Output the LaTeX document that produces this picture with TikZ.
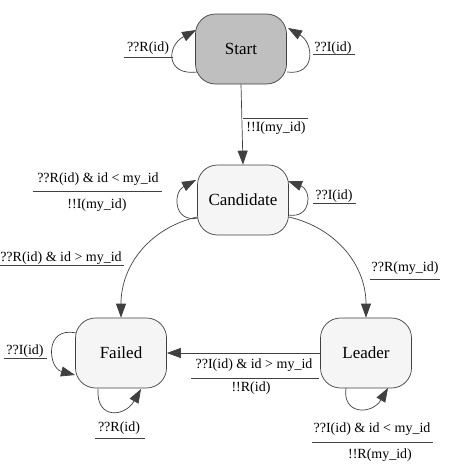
\documentclass[tikz,border=0pt]{standalone}
\usepackage{fontspec}
\setmainfont{Liberation Serif}
\usetikzlibrary{arrows.meta,calc}
\begin{document}
\begin{tikzpicture}[x=1pt,y=-1pt,
  state/.style={draw=black!75, line width=0.7pt, rounded corners=20pt, minimum width=91pt, minimum height=70pt, inner sep=0pt, fill=black!4, font=\fontsize{17}{20}\selectfont},
  lbl/.style={inner sep=0pt, font=\fontsize{14}{16}\selectfont},
  edge/.style={draw=black!75, line width=0.7pt, -{Triangle[length=14pt,width=10pt]}},
  rul/.style={draw=black!75, line width=0.8pt}]
\useasboundingbox (0,0) rectangle (474,474);
% states
\node[state, fill=black!25] (start) at (241,49) {Start};
\node[state] (cand) at (243,200) {Candidate};
\node[state] (failed) at (121,353) {Failed};
\node[state] (leader) at (366,353) {Leader};
% Start loops
\draw[edge] ($(start)+(-44,23)$) .. controls (166,76) and (166,46) .. ($(start)+(-45,-19)$);
\draw[edge] ($(start)+(46,23)$) .. controls (316,76) and (314,43) .. ($(start)+(47,-21)$);
\node[lbl] (l1) at (148,48) {??R(id)};
\draw[rul] (124,57) -- (173,57);
\node[lbl] (l2) at (333,48) {??I(id)};
\draw[rul] (313,54) -- (355,54);
% Start -> Candidate
\draw[edge] (start.south) -- (cand.north);
\draw[rul] (243,118) -- (308,118);
\node[lbl] (l3) at (276,128) {!!I(my\_id)};
% Candidate loops
\draw[edge] ($(cand)+(-45,18)$) .. controls (173,223) and (173,192) .. ($(cand)+(-47,-20)$);
\draw[edge] ($(cand)+(45,15)$) .. controls (312,219) and (312,190) .. ($(cand)+(45,-19)$);
\node[lbl] (l4) at (98,179) {??R(id) \& id < my\_id};
\draw[rul] (33,191) -- (162,191);
\node[lbl] (l5) at (97,205) {!!I(my\_id)};
\node[lbl] (l6) at (334,196) {??I(id)};
\draw[rul] (313,203) -- (356,203);
% Candidate -> Failed / Leader
\draw[edge] ($(cand)+(-46,17)$) .. controls (150,228) and (121,265) .. (failed.north);
\draw[edge] ($(cand)+(46,17)$) .. controls (336,228) and (366,265) .. (leader.north);
\node[lbl] (l7) at (61,258) {??R(id) \& id > my\_id};
\draw[rul] (0,265) -- (124,265);
\node[lbl] (l8) at (405,268) {??R(my\_id)};
\draw[rul] (370,279) -- (440,279);
% Failed loops
\draw[edge] ($(failed)+(-45,-20)$) .. controls (44,326) and (48,368) .. ($(failed)+(-46,22)$);
\draw[edge] ($(failed)+(-23,36)$) .. controls (96,420) and (125,417) .. ($(failed)+(20,36)$);
\node[lbl] (l9) at (25,351) {??I(id)};
\draw[rul] (4,358) -- (47,358);
\node[lbl] (l10) at (119,428) {??R(id)};
\draw[rul] (95,438) -- (145,438);
% Leader -> Failed
\draw[edge] (leader.west) -- (failed.east);
\node[lbl] (l11) at (254,365) {??I(id) \& id > my\_id};
\draw[rul] (191,378) -- (319,378);
\node[lbl] (l12) at (251,388) {!!R(id)};
% Leader loop
\draw[edge] ($(leader)+(-20,35)$) .. controls (342,415) and (372,415) .. ($(leader)+(22,35)$);
\node[lbl] (l13) at (372,429) {??I(id) \& id < my\_id};
\draw[rul] (312,442) -- (433,442);
\node[lbl] (l14) at (380,455) {!!R(my\_id)};
\end{tikzpicture}
\end{document}
